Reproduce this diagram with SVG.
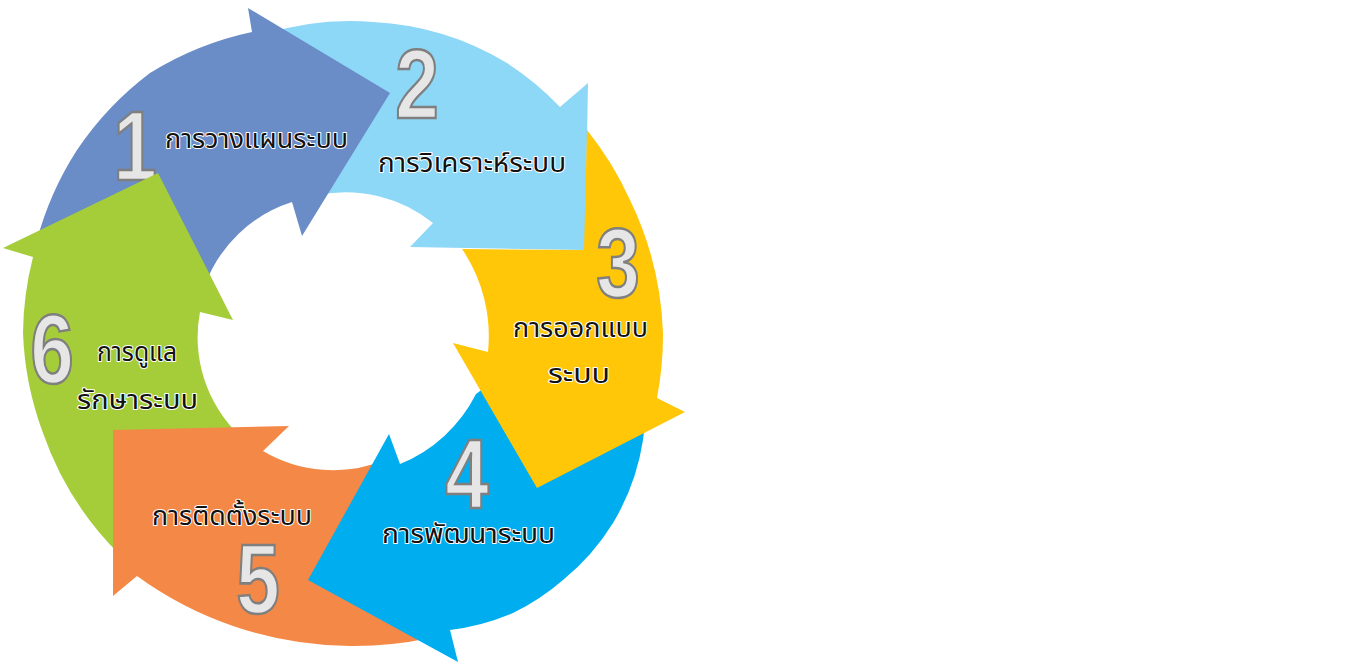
<svg xmlns="http://www.w3.org/2000/svg" width="1360" height="666" viewBox="0 0 1360 666">
<style>
.num{font-family:"Liberation Sans","DejaVu Sans",sans-serif;font-weight:bold;font-size:98px;fill:#E6E6E6;stroke:#7F7F7F;stroke-width:2.5;text-anchor:middle}
.lbl{font-family:"Noto Sans Thai","Noto Sans","DejaVu Sans",sans-serif;font-size:27px;fill:#111;stroke:#FFFFFF;stroke-width:2;paint-order:stroke;stroke-linejoin:round}
</style>
<rect width="1360" height="666" fill="#FFFFFF"/>
<g id="connectors"></g>
<g id="node2">
<path fill="#8DD7F7" d="M265,34 A287,287 0 0 1 373,22 A287,287 0 0 1 507,63 A287,287 0 0 1 560,107 L588,83 L585,250 L410,247 L433,223 A140,140 0 0 0 318,195 Z"/>
<text class="num" transform="translate(417,118) scale(0.8,1)">2</text>
<text class="lbl" x="378" y="172" textLength="188" lengthAdjust="spacingAndGlyphs">การวิเคราะห์ระบบ</text>
</g>
<g id="node1">
<path fill="#6A8CC7" d="M37,240 A319,319 0 0 1 77,150 A319,319 0 0 1 150,73 A319,319 0 0 1 252,32 L248,8 L390,93 L302,236 L292,202 A137,137 0 0 0 205,285 Z"/>
<text class="num" transform="translate(135,180) scale(0.8,1)">1</text>
<text class="lbl" x="165" y="148" textLength="183" lengthAdjust="spacingAndGlyphs">การวางแผนระบบ</text>
</g>
<g id="node6">
<path fill="#A5CD39" d="M120,555 A320,320 0 0 1 43,433 A320,320 0 0 1 23,333 A320,320 0 0 1 33,257 L3,248 L158,173 L233,320 L200,312 A136,136 0 0 0 240,436 Z"/>
<text class="num" transform="translate(52,383) scale(0.8,1)">6</text>
<text class="lbl" x="97" y="361" textLength="80" lengthAdjust="spacingAndGlyphs">การดูแล</text>
<text class="lbl" x="77" y="409" textLength="121" lengthAdjust="spacingAndGlyphs">รักษาระบบ</text>
</g>
<g id="node5">
<path fill="#F48847" d="M430,638 A366,366 0 0 1 350,646 A366,366 0 0 1 233,626 A366,366 0 0 1 137,576 L113,596 L113,430 L289,426 L263,451 A137,137 0 0 0 385,460 Z"/>
<text class="num" transform="translate(258,613) scale(0.8,1)">5</text>
<text class="lbl" x="152" y="525" textLength="160" lengthAdjust="spacingAndGlyphs">การติดตั้งระบบ</text>
</g>
<g id="node4">
<path fill="#00AEEF" d="M645,420 A228,228 0 0 1 643,440 A228,228 0 0 1 613,523 A228,228 0 0 1 563,580 A228,228 0 0 1 513,613 A228,228 0 0 1 450,630 L458,662 L308,580 L389,434 L400,464 A147,147 0 0 0 476,394 L492,382 Z"/>
<text class="num" transform="translate(467,508) scale(0.8,1)">4</text>
<text class="lbl" x="382" y="543" textLength="173" lengthAdjust="spacingAndGlyphs">การพัฒนาระบบ</text>
</g>
<g id="node3">
<path fill="#FFC708" d="M587,130 A330,330 0 0 1 630,200 A330,330 0 0 1 663,333 A330,330 0 0 1 657,398 L685,412 L537,488 L453,343 L488,352 A155,155 0 0 0 462,249 L584,250 Z"/>
<text class="num" transform="translate(618,297) scale(0.8,1)">3</text>
<text class="lbl" x="513" y="337" textLength="135" lengthAdjust="spacingAndGlyphs">การออกแบบ</text>
<text class="lbl" x="548" y="383" textLength="62" lengthAdjust="spacingAndGlyphs">ระบบ</text>
</g>
</svg>
